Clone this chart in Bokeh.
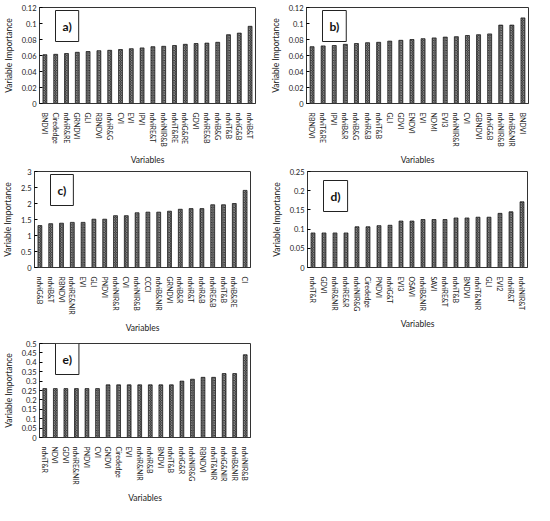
from bokeh.plotting import figure
from bokeh.models import Range1d, FixedTicker, Label
from bokeh.layouts import column, row
from bokeh.embed import file_html
from bokeh.resources import INLINE

# ---------------- data ----------------
a_vars = ["BNDVI", "Cirededge", "ndviR&RE", "GRNDVI", "GLI", "RBNDVI", "ndviR&G", "CVI", "EVI", "IPVI",
          "ndviRE&T", "ndviNIR&B", "ndviT&RE", "ndviG&RE", "GDVI", "ndviRE&B", "ndviB&G", "ndviT&B", "ndviG&B", "ndviB&T"]
a_vals = [0.061, 0.0615, 0.0625, 0.064, 0.065, 0.066, 0.0665, 0.0675, 0.0685, 0.0695,
          0.071, 0.0715, 0.0725, 0.074, 0.075, 0.0755, 0.0765, 0.086, 0.088, 0.0965]

b_vars = ["RBNDVI", "ndviT&RE", "IPVI", "ndviB&R", "ndviB&G", "ndviR&B", "ndviT&B", "GLI", "GDVI", "ENDVI",
          "EVI", "NDMI", "EVI3", "ndviNIR&R", "CVI", "GBNDVI", "ndviG&B", "ndviNIR&B", "ndviB&NIR", "BNDVI"]
b_vals = [0.071, 0.072, 0.0725, 0.074, 0.075, 0.076, 0.0765, 0.078, 0.079, 0.080,
          0.081, 0.082, 0.083, 0.0835, 0.085, 0.086, 0.087, 0.098, 0.098, 0.107]

c_vars = ["ndviG&B", "ndviB&T", "RBNDVI", "ndviRE&NIR", "EVI", "GLI", "PNDVI", "ndviNIR&R", "CVI", "ndviNIR&B",
          "CCCI", "ndviB&NIR", "GRNDVI", "ndviB&R", "ndviR&T", "ndviR&B", "ndviRE&B", "ndviT&B", "ndviB&RE", "CI"]
c_vals = [1.31, 1.37, 1.385, 1.41, 1.41, 1.51, 1.51, 1.62, 1.62, 1.71,
          1.73, 1.73, 1.76, 1.82, 1.84, 1.84, 1.96, 1.96, 2.0, 2.41]

d_vars = ["ndviT&R", "GDVI", "ndviR&NIR", "ndviRE&R", "ndviNIR&G", "Cirededge", "PNDVI", "ndviG&T", "EVI3", "OSAVI",
          "ndviB&NIR", "SAVI", "ndviRE&T", "ndviT&B", "BNDVI", "ndviT&NIR", "GLI", "EVI2", "ndviR&T", "ndviNIR&T"]
d_vals = [0.09, 0.09, 0.09, 0.09, 0.106, 0.106, 0.109, 0.11, 0.121, 0.121,
          0.125, 0.125, 0.125, 0.129, 0.129, 0.131, 0.131, 0.141, 0.145, 0.171]

e_vars = ["ndviT&R", "NDVI", "GDVI", "ndviRE&NIR", "PNDVI", "CVI", "GNDVI", "Cirededge", "EVI", "ndviR&NIR",
          "ndviR&B", "BNDVI", "ndviT&B", "ndviG&R", "ndviNIR&G", "RBNDVI", "ndviT&NIR", "ndviG&NIR", "ndviB&NIR", "ndviNIR&B"]
e_vals = [0.26, 0.26, 0.26, 0.26, 0.26, 0.26, 0.28, 0.28, 0.28, 0.28,
          0.28, 0.28, 0.28, 0.30, 0.31, 0.32, 0.32, 0.34, 0.34, 0.44]

a_ticks = [0, 0.02, 0.04, 0.06, 0.08, 0.1, 0.12]
b_ticks = [0, 0.02, 0.04, 0.06, 0.08, 0.1, 0.12]
c_ticks = [0, 0.5, 1, 1.5, 2, 2.5, 3]
d_ticks = [0, 0.05, 0.1, 0.15, 0.2, 0.25]
e_ticks = [0, 0.05, 0.1, 0.15, 0.2, 0.25, 0.3, 0.35, 0.4, 0.45, 0.5]

panel_tags = ["a)", "b)", "c)", "d)", "e)"]

FONT = "Lato"
TXT = "#222222"


def make_panel(vars_, vals, ticks, tag, w, h, bl, br, bt, bb):
    p = figure(x_range=vars_, y_range=Range1d(ticks[0], ticks[-1]),
               width=w, height=h, output_backend="svg", toolbar_location=None,
               min_border_left=bl, min_border_right=br, min_border_top=bt, min_border_bottom=bb)
    p.vbar(x=vars_, top=vals, width=0.36, fill_color="#3c3c3c", line_color="#111111", line_width=0.7,
           hatch_pattern="diagonal_cross", hatch_color="#a8a8a8", hatch_scale=2.5, hatch_weight=0.6)
    p.xgrid.visible = False
    p.ygrid.visible = False
    p.outline_line_color = "#333333"
    p.outline_line_width = 1
    p.background_fill_color = "white"
    p.border_fill_color = "white"

    p.yaxis.ticker = FixedTicker(ticks=ticks)
    p.yaxis.major_label_overrides = {t: f"{t:g}" for t in ticks}
    p.yaxis.minor_tick_line_color = None
    p.yaxis.major_tick_in = 3
    p.yaxis.major_tick_out = 0
    p.yaxis.axis_label = "Variable Importance"

    p.xaxis.axis_label = "Variables"
    p.xaxis.major_label_orientation = "vertical"
    p.xaxis.major_tick_line_color = None
    p.xaxis.minor_tick_line_color = None

    for ax in (p.xaxis[0], p.yaxis[0]):
        ax.axis_line_color = "#333333"
        ax.major_label_text_font = FONT
        ax.major_label_text_color = TXT
        ax.major_label_standoff = 3
        ax.axis_label_text_font = FONT
        ax.axis_label_text_font_size = "8.5px"
        ax.axis_label_text_font_style = "normal"
        ax.axis_label_text_color = TXT
        ax.axis_label_standoff = 5
    p.xaxis.major_label_text_font_size = "7px"
    p.yaxis.major_label_text_font_size = "7.5px"

    lbl = Label(x=16, y=h - bt - bb - 12, x_units="screen", y_units="screen", text=tag,
                text_font=FONT, text_font_size="12px", text_font_style="bold", text_color="#111111",
                text_baseline="top", text_align="left",
                background_fill_color="white", border_line_color="#222222", border_line_width=1,
                padding=(7, 8))
    p.add_layout(lbl)
    return p


pa = make_panel(a_vars, a_vals, a_ticks, panel_tags[0], 267, 167, 34, 12, 5, 57)
pb = make_panel(b_vars, b_vals, b_ticks, panel_tags[1], 267, 167, 33, 6, 7, 55)
pc = make_panel(c_vars, c_vals, c_ticks, panel_tags[2], 267, 168, 32, 17, 3, 60)
pd = make_panel(d_vars, d_vals, d_ticks, panel_tags[3], 267, 168, 40, 7, 4, 65)
pe = make_panel(e_vars, e_vals, e_ticks, panel_tags[4], 267, 170, 32, 17, 8, 56)

layout = column(row(pa, pb), row(pc, pd), row(pe))

open("out.html", "w").write(file_html(layout, INLINE))
